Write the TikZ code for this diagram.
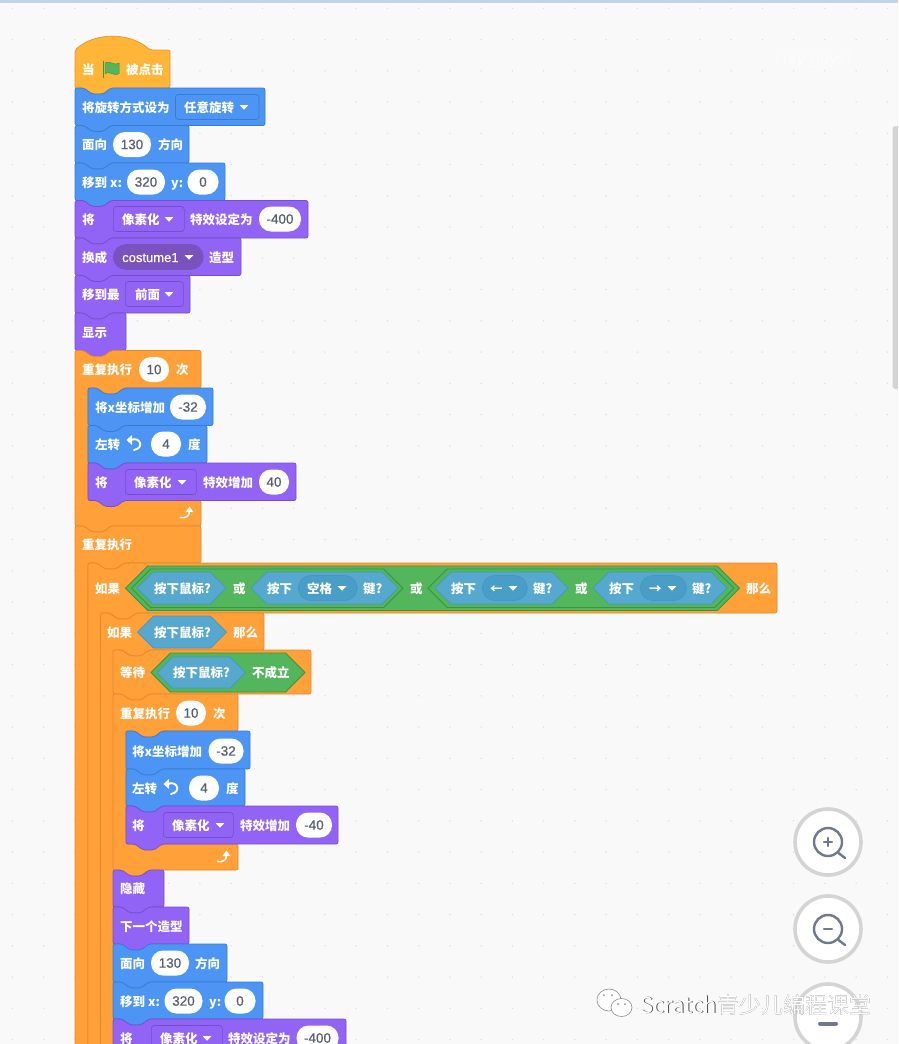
\documentclass[tikz,border=0pt]{standalone}
\usepackage{fontspec}
\setmainfont{Noto Sans CJK SC}
\newfontfamily\latina[FakeBold=0.5]{Liberation Sans}
\usetikzlibrary{positioning,calc}
\definecolor{fundo}{RGB}{249,249,249}
\definecolor{faixa}{RGB}{197,211,234}
\definecolor{pontos}{RGB}{222,222,222}
\definecolor{laranja}{RGB}{255,160,56}
\definecolor{laranjaesc}{RGB}{226,136,48}
\definecolor{evento}{RGB}{255,182,56}
\definecolor{eventoesc}{RGB}{226,150,50}
\definecolor{azul}{RGB}{76,149,245}
\definecolor{azulesc}{RGB}{60,122,205}
\definecolor{roxo}{RGB}{146,100,245}
\definecolor{roxoesc}{RGB}{118,78,200}
\definecolor{roxoforte}{RGB}{122,82,190}
\definecolor{verde}{RGB}{83,181,92}
\definecolor{verdeesc}{RGB}{58,148,66}
\definecolor{ciano}{RGB}{87,168,206}
\definecolor{cianoesc}{RGB}{70,150,190}
\definecolor{cianoforte}{RGB}{72,158,198}
\definecolor{valor}{RGB}{87,94,117}
\definecolor{cinza}{RGB}{212,212,212}
\definecolor{icone}{RGB}{112,120,145}
\tikzset{%
  blocoa/.style={fill=azul,draw=azulesc,line width=.7pt},
  blocor/.style={fill=roxo,draw=roxoesc,line width=.7pt},
  blocol/.style={fill=laranja,draw=laranjaesc,line width=.7pt},
  hexv/.style={fill=verde,draw=verdeesc,line width=.8pt},
  hexc/.style={fill=ciano,draw=cianoesc,line width=.7pt},
  rotulo/.style={anchor=west,inner sep=0pt,text=white,font=\bfseries\fontsize{12.5}{14}\selectfont,text height=11pt,text depth=1pt},
  campo/.style={fill=white,rounded corners=12pt,minimum height=25pt,inner sep=0pt,text=valor,font=\latina\fontsize{13.5}{15}\selectfont},
  menu/.style={anchor=west,fill=roxo,draw=roxoesc,line width=.7pt,rounded corners=3pt,minimum height=25pt,inner sep=0pt},
  menuoval/.style n args={2}{anchor=west,fill=#1,draw=#2,line width=.6pt,rounded corners=12.5pt,minimum height=25pt,inner sep=0pt},
  botao/.style={circle,draw=cinza,fill=white,line width=3.6pt,minimum size=66pt,inner sep=0pt}
}
\newcommand{\bloco}[5]{%
  \draw[#1,rounded corners=2pt] (#2,#3) -- (#2+9,#3) -- (#2+17,#3+6) -- (#2+28,#3+6) -- (#2+36,#3)
    -- (#4,#3) -- (#4,#5) -- (#2+36,#5) -- (#2+28,#5+6) -- (#2+17,#5+6) -- (#2+9,#5) -- (#2,#5) -- cycle;}
\newcommand{\blococ}[7]{%
  \draw[#1,rounded corners=2pt] (#2,#3) -- (#2+9,#3) -- (#2+17,#3+6) -- (#2+28,#3+6) -- (#2+36,#3)
    -- (#4,#3) -- (#4,#5) -- (#2+49,#5) -- (#2+41,#5+6) -- (#2+30,#5+6) -- (#2+22,#5) -- (#2+13,#5)
    -- (#2+13,#6) -- (#4,#6) -- (#4,#7) -- (#2+36,#7) -- (#2+28,#7+6) -- (#2+17,#7+6) -- (#2+9,#7) -- (#2,#7) -- cycle;}
\newcommand{\hexa}[5]{%
  \draw[#1,line join=round] (#2,{(#4+#5)/2}) -- (#2+#5/2-#4/2,#4) -- (#3-#5/2+#4/2,#4) -- (#3,{(#4+#5)/2})
    -- (#3-#5/2+#4/2,#5) -- (#2+#5/2-#4/2,#5) -- cycle;}
\newcommand{\seta}[2]{\fill[white,rounded corners=.6pt] (#1-4.5,#2-2) -- (#1+4.5,#2-2) -- (#1,#2+2.8) -- cycle;}
\newcommand{\giro}[2]{%
  \draw[white,line width=1.9pt,line cap=round] (#1-4,#2-4) .. controls (#1+5,#2-8) and (#1+10,#2+4) .. (#1-1,#2+6);
  \fill[white] (#1-8.5,#2-4) -- (#1-3,#2-9) -- (#1-3,#2+1) -- cycle;}
\newcommand{\volta}[2]{%
  \draw[white,line width=1.6pt,line cap=round] (#1-6.5,#2+4.5) .. controls (#1-1,#2+5.5) and (#1+2.5,#2+3) .. (#1+2.5,#2-2);
  \fill[white] (#1+2.5,#2-6.5) -- (#1+6.5,#2-1) -- (#1-1.5,#2-1) -- cycle;}

\begin{document}
\begin{tikzpicture}[x=1pt,y=-1pt]
    \useasboundingbox (0,0) rectangle (898,1044);
    \clip (0,0) rectangle (898,1044);
    \fill[fundo] (0,0) rectangle (898,1044);
    \fill[faixa] (0,0) rectangle (898,3);
    \foreach \i in {0,...,28} \foreach \j in {0,...,33}
      \fill[pontos] (12.4+31.25*\i,8.3+31.25*\j) circle (.8);
    \fill[cinza,rounded corners=3pt] (892.5,126) rectangle (905,389);
    \node[rotulo,text=white,font=\latina\itshape\fontsize{17}{19}\selectfont,opacity=.5] (ola) at (775,59) {Hey guys!};

    % primeira pilha
    \draw[fill=evento,draw=eventoesc,line width=.7pt,rounded corners=2pt] (75,88) -- (75,50)
      .. controls (95,32) and (130,32) .. (150,50) -- (170,50) -- (170,88) -- (111,88) -- (103,94) -- (92,94) -- (84,88) -- cycle;
    \bloco{blocoa}{75}{88}{265}{125.5}
    \bloco{blocoa}{75}{125.5}{189}{163}
    \bloco{blocoa}{75}{163}{225}{200.5}
    \bloco{blocor}{75}{200.5}{308}{238}
    \bloco{blocor}{75}{238}{241}{275.5}
    \bloco{blocor}{75}{275.5}{190}{313}
    \bloco{blocor}{75}{313}{126}{350.5}

    \node[rotulo] (quando) at (82,69) {当};
    \draw[verdeesc,line width=1.6pt] (103.5,61) -- (103.5,77.5);
    \fill[verde,draw=verdeesc,line width=.5pt] (105,63) .. controls (110,59.5) and (113,66.5) .. (119,63) -- (119,73.5)
      .. controls (113,77) and (110,70) .. (105,73.5) -- cycle;
    \node[rotulo] (clique) at (126,69) {被点击};

    \node[rotulo] (rotacao) at (82,107) {将旋转方式设为};
    \draw[blocoa,rounded corners=3pt] (175.5,94.5) rectangle (259,119.5);
    \node[rotulo] (rotacaoval) at (184,107) {任意旋转};
    \seta{244}{107}

    \node[rotulo] (face) at (82,144.5) {面向};
    \node[campo,minimum width=38pt] (faceval) at (132,144.5) {130};
    \node[rotulo] (facefim) at (158,144.5) {方向};

    \node[rotulo] (vai) at (82,182) {移到 x:};
    \node[campo,minimum width=38pt] (vaix) at (146,182) {320};
    \node[rotulo] (vaiy) at (171,182) {y:};
    \node[campo,minimum width=31pt] (vaiyval) at (203,182) {0};

    \node[rotulo] (efeito) at (82,219) {将};
    \node[menu,minimum width=71pt] (efeitomenu) at (113,219) {};
    \node[rotulo] (efeitoval) at (122,219) {像素化};
    \seta{169}{219}
    \node[rotulo] (efeitofim) at (190,219) {特效设定为};
    \node[campo,minimum width=42pt] (efeitonum) at (280,219) {-400};

    \node[rotulo] (troca) at (82,257) {换成};
    \node[menuoval={roxoforte}{roxoforte},minimum width=90pt] (trocamenu) at (113,257) {};
    \node[rotulo,font=\latina\fontsize{13}{15}\selectfont] (trocaval) at (122,257) {costume1};
    \seta{189}{257}
    \node[rotulo] (trocafim) at (209,257) {造型};

    \node[rotulo] (frente) at (82,294) {移到最};
    \node[menu,minimum width=58pt] (frentemenu) at (125,294) {};
    \node[rotulo] (frenteval) at (135,294) {前面};
    \seta{169}{294}

    \node[rotulo] (mostra) at (82,332) {显示};

    % repetir 10
    \blococ{blocol}{75}{350.5}{201}{388}{500.5}{526}
    \bloco{blocoa}{88}{388}{213}{425.5}
    \bloco{blocoa}{88}{425.5}{207}{463}
    \bloco{blocor}{88}{463}{296}{500.5}

    \node[rotulo] (rep) at (82,369.5) {重复执行};
    \node[campo,minimum width=30pt] (repval) at (154,369.5) {10};
    \node[rotulo] (repfim) at (176,369.5) {次};

    \node[rotulo] (soma) at (95,407) {将x坐标增加};
    \node[campo,minimum width=36pt] (somaval) at (188,407) {-32};

    \node[rotulo] (gira) at (95,444) {左转};
    \giro{135}{444}
    \node[campo,minimum width=30pt] (giraval) at (166,444) {4};
    \node[rotulo] (girafim) at (188,444) {度};

    \node[rotulo] (mais) at (95,482) {将};
    \node[menu,minimum width=71pt] (maismenu) at (125,482) {};
    \node[rotulo] (maisval) at (134,482) {像素化};
    \seta{182}{482}
    \node[rotulo] (maisfim) at (203,482) {特效增加};
    \node[campo,minimum width=30pt] (maisnum) at (274,482) {40};
    \volta{187}{513}

    % sempre, se, se
    \blococ{blocol}{75}{526}{201}{563}{1100}{1120}
    \blococ{blocol}{88}{563}{777}{613}{1100}{1120}
    \blococ{blocol}{100.5}{613}{264}{650}{1100}{1120}
    \bloco{blocol}{113}{650}{311}{694}

    \node[rotulo] (sempre) at (82,544) {重复执行};
    \node[rotulo] (se) at (95,588) {如果};
    \hexa{hexv}{125.5}{739.5}{566}{610.5}
    \hexa{hexv}{131.5}{403}{569}{607.5}
    \hexa{hexv}{428}{734}{569}{607.5}
    \hexa{hexc}{137}{226}{572}{604}
    \hexa{hexc}{251}{398}{572}{604}
    \hexa{hexc}{435}{568}{572}{604}
    \hexa{hexc}{593}{727}{572}{604}

    \node[rotulo] (mouse) at (154,588) {按下鼠标?};
    \node[rotulo] (ou) at (233,588) {或};
    \node[rotulo] (tecla) at (267,588) {按下};
    \node[menuoval={cianoforte}{cianoesc},minimum width=59pt] (teclamenu) at (298,588) {};
    \node[rotulo] (teclaval) at (307,588) {空格};
    \seta{342}{588}
    \node[rotulo] (teclafim) at (363,588) {键?};
    \node[rotulo] (oumeio) at (410,588) {或};
    \node[rotulo] (esq) at (451,588) {按下};
    \node[menuoval={cianoforte}{cianoesc},minimum width=45pt] (esqmenu) at (482,588) {};
    \node[rotulo] (esqval) at (490,588) {←};
    \seta{513}{588}
    \node[rotulo] (esqfim) at (533,588) {键?};
    \node[rotulo] (oufim) at (575,588) {或};
    \node[rotulo] (dir) at (609,588) {按下};
    \node[menuoval={cianoforte}{cianoesc},minimum width=46pt] (dirmenu) at (640,588) {};
    \node[rotulo] (dirval) at (649,588) {→};
    \seta{672}{588}
    \node[rotulo] (dirfim) at (692,588) {键?};
    \node[rotulo] (entao) at (746,588) {那么};

    \node[rotulo] (sedois) at (107,632) {如果};
    \hexa{hexc}{137.5}{226.5}{616}{648}
    \node[rotulo] (mousedois) at (154,632) {按下鼠标?};
    \node[rotulo] (entaodois) at (233,632) {那么};

    \node[rotulo] (espera) at (120,672.5) {等待};
    \hexa{hexv}{151}{305}{653}{692}
    \hexa{hexc}{157}{245.5}{657}{688}
    \node[rotulo] (mousetres) at (173,672.5) {按下鼠标?};
    \node[rotulo] (nao) at (252,672.5) {不成立};

    % repetir de novo
    \blococ{blocol}{113}{694}{238}{731}{844}{870}
    \bloco{blocoa}{126}{731}{250}{769}
    \bloco{blocoa}{126}{769}{245}{806}
    \bloco{blocor}{126}{806}{338}{844}

    \node[rotulo] (repb) at (120,713) {重复执行};
    \node[campo,minimum width=30pt] (repbval) at (191,713) {10};
    \node[rotulo] (repbfim) at (213,713) {次};

    \node[rotulo] (somab) at (132,751) {将x坐标增加};
    \node[campo,minimum width=35pt] (somabval) at (226,751) {-32};

    \node[rotulo] (girab) at (132,788) {左转};
    \giro{172}{788}
    \node[campo,minimum width=30pt] (girabval) at (204,788) {4};
    \node[rotulo] (girabfim) at (226,788) {度};

    \node[rotulo] (maisb) at (132,825) {将};
    \node[menu,minimum width=70pt] (maisbmenu) at (163,825) {};
    \node[rotulo] (maisbval) at (172,825) {像素化};
    \seta{220}{825}
    \node[rotulo] (maisbfim) at (240,825) {特效增加};
    \node[campo,minimum width=36pt] (maisbnum) at (314,825) {-40};
    \volta{224}{857}

    \bloco{blocor}{113}{870}{164}{907}
    \bloco{blocor}{113}{907}{189}{944}
    \bloco{blocoa}{113}{944}{227}{982}
    \bloco{blocoa}{113}{982}{263}{1019}
    \bloco{blocor}{113}{1019}{346}{1060}

    \node[rotulo] (oculta) at (120,888) {隐藏};
    \node[rotulo] (proximo) at (120,926) {下一个造型};
    \node[rotulo] (faceb) at (120,963) {面向};
    \node[campo,minimum width=38pt] (facebval) at (170,963) {130};
    \node[rotulo] (facebfim) at (195,963) {方向};
    \node[rotulo] (vaib) at (120,1001) {移到 x:};
    \node[campo,minimum width=38pt] (vaibx) at (183.5,1001) {320};
    \node[rotulo] (vaiby) at (209,1001) {y:};
    \node[campo,minimum width=31pt] (vaibyval) at (240,1001) {0};
    \node[rotulo] (efeitob) at (120,1038) {将};
    \node[menu,minimum width=71pt] (efeitobmenu) at (151,1038) {};
    \node[rotulo] (efeitobval) at (160,1038) {像素化};
    \seta{207}{1038}
    \node[rotulo] (efeitobfim) at (228,1038) {特效设定为};
    \node[campo,minimum width=42pt] (efeitobnum) at (317.5,1038) {-400};

    % controles de zoom
    \node[botao] (maiszoom) at (828,842) {};
    \node[botao] (menoszoom) at (828,929) {};
    \node[botao] (ajuste) at (828,1017) {};
    \foreach \b/\y in {maiszoom/842,menoszoom/929} {
      \draw[icone,line width=2.4pt] (828,\y) circle (14);
      \draw[icone,line width=2.4pt,line cap=round] (838.5,\y+11) -- (845,\y+16);
      \draw[icone,line width=2.2pt,line cap=round] (824,\y) -- (832,\y);
    }
    \draw[icone,line width=2.2pt,line cap=round] (828,838) -- (828,846);
    \draw[icone,line width=4pt,line cap=round] (820,1023.5) -- (836,1023.5);

    % marca
    \draw[fill=white,draw=black!45,line width=.6pt] (609,1000) ellipse (12 and 11);
    \draw[fill=white,draw=black!45,line width=.6pt] (621.5,1007.5) ellipse (10.5 and 9);
    \fill[black!45] (604,995) circle (1) (612,995) circle (1) (618,1004) circle (1) (625,1004) circle (1);
    \node[rotulo,text=black!70,font=\fontsize{22}{24}\selectfont,text height=19pt,text depth=3pt] (marcasomb) at (640.8,1005.8) {Scratch青少儿编程课堂};
    \node[rotulo,font=\fontsize{22}{24}\selectfont,text height=19pt,text depth=3pt] (marca) at (640,1005) {Scratch青少儿编程课堂};
  \end{tikzpicture}
\end{document}
